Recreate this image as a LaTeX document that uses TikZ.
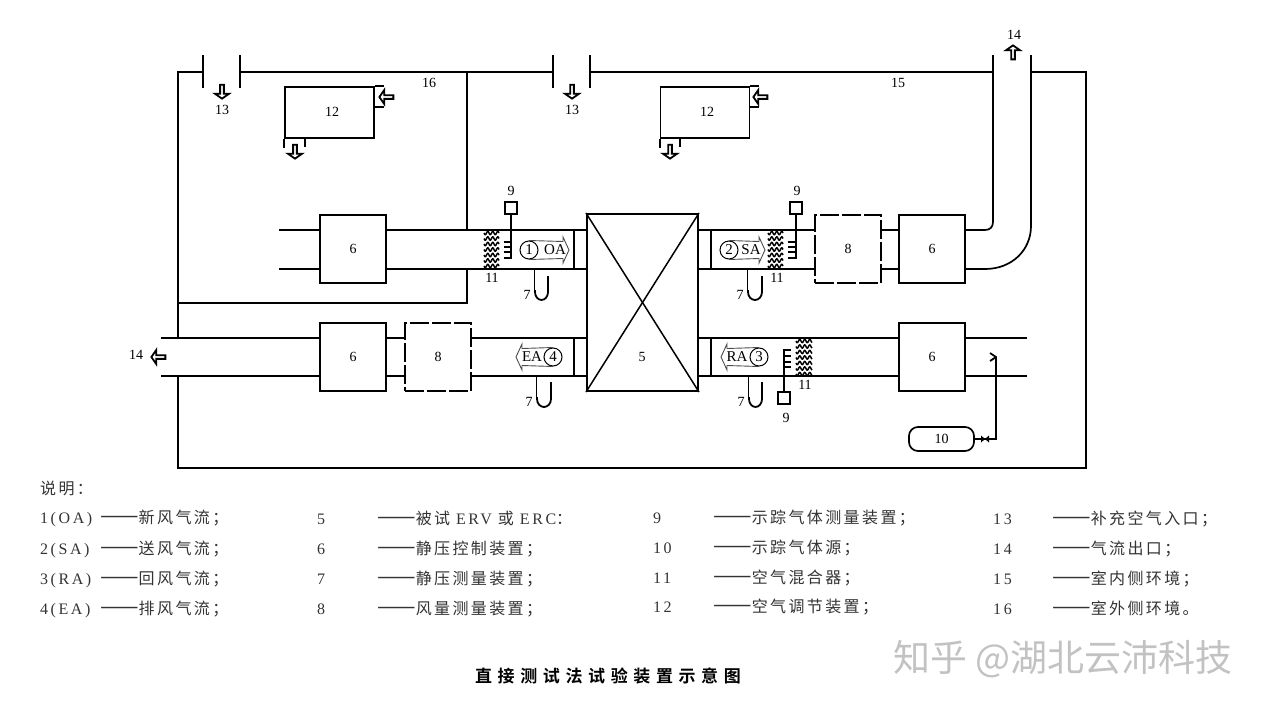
\documentclass[tikz,border=0pt]{standalone}
\usepackage{fontspec}
\setmainfont{Liberation Serif}
\newfontfamily\cjk[LetterSpace=15]{Noto Sans CJK SC}
\newfontfamily\legfont[LetterSpace=16]{Liberation Serif}
\newfontfamily\cjkplain{Noto Sans CJK SC}
\newfontfamily\cjktitle[LetterSpace=33]{Noto Sans CJK SC Bold}
\newfontfamily\szacfont{Liberation Sans}
\newcommand{\dsh}{{\fontsize{23}{19}\selectfont\cjkplain ——}}
\usetikzlibrary{shapes.arrows}

\begin{document}
\begin{tikzpicture}[x=1pt,y=-1pt]
	\tikzstyle{wall}=[draw,line width=1.8pt,black]
	\tikzstyle{duct}=[draw,line width=1.7pt,black]
	\tikzstyle{unit}=[draw,line width=2pt,rectangle,minimum width=66pt,minimum height=68pt,inner sep=0pt,font=\fontsize{14}{15}\selectfont]
	\tikzstyle{flowmeter}=[unit,dash pattern=on 19pt off 3pt]
	\tikzstyle{label}=[inner sep=0pt,font=\fontsize{14}{15}\selectfont]
	\tikzstyle{air}=[draw,line width=1.8pt,single arrow,minimum height=14pt,minimum width=14pt,single arrow head extend=2.5pt,single arrow tip angle=110,inner sep=0pt,fill=white]
	\tikzstyle{probe}=[draw,line width=1.6pt,rectangle,minimum size=12pt,inner sep=0pt]
	\tikzstyle{stem}=[draw,line width=1.6pt,black]
	\tikzstyle{mixer}=[draw,line width=1.5pt]
	\tikzstyle{flow}=[draw,line width=.9pt,black!70]
	\tikzstyle{stream}=[draw,line width=1pt,circle,minimum size=18pt,inner sep=0pt,font=\fontsize{15}{15}\selectfont]
	\tikzstyle{tube}=[draw,line width=1.8pt,black]
	\tikzstyle{legend}=[anchor=west,inner sep=0pt,text height=11pt,text depth=3pt,yshift=-1pt,black!80,font=\fontsize{16}{17}\selectfont\legfont]

	\useasboundingbox (0,0) rectangle (1262,710);

	% enclosure
	\coordinate (tl) at (178,72);
	\coordinate (tr) at (1086,72);
	\coordinate (br) at (1086,468);
	\coordinate (bl) at (178,468);
	\coordinate (inA) at (203,72);
	\coordinate (inB) at (240,72);
	\coordinate (inC) at (553,72);
	\coordinate (inD) at (590,72);
	\coordinate (outA) at (993,72);
	\coordinate (outB) at (1031,72);
	\path[wall] (178,338) -- (tl) -- (inA);
	\path[wall] (inB) -- (inC);
	\path[wall] (inD) -- (outA);
	\path[wall] (outB) -- (tr) -- (br) -- (bl) -- (178,376);
	\path[wall] (203,55) -- (203,88);
	\path[wall] (240,55) -- (240,88);
	\path[wall] (553,55) -- (553,88);
	\path[wall] (590,55) -- (590,88);
	\path[wall] (467,72) -- (467,230);
	\path[wall] (467,269) -- (467,303) -- (178,303);

	% units
	\node[unit,minimum width=111pt,minimum height=177pt] (v5) at (642.5,302.5) {};
	\node[label] (l5) at (642,357) {5};
	\node[unit] (a6) at (353,249) {6};
	\node[unit] (b6) at (932,249) {6};
	\node[unit] (c6) at (353,356.5) {6};
	\node[unit] (d6) at (932,356.5) {6};
	\node[flowmeter] (b8) at (848,249) {8};
	\node[flowmeter] (c8) at (438,356.5) {8};
	\draw[line width=1.5pt] (v5.north west) -- (v5.south east);
	\draw[line width=1.5pt] (v5.north east) -- (v5.south west);

	% ducts
	\path[duct] (279,230) -- (a6.west |- 0,230);
	\path[duct] (279,269) -- (a6.west |- 0,269);
	\path[duct] (a6.east |- 0,230) -- (v5.west |- 0,230);
	\path[duct] (a6.east |- 0,269) -- (v5.west |- 0,269);
	\path[duct] (v5.east |- 0,230) -- (b8.west |- 0,230);
	\path[duct] (v5.east |- 0,269) -- (b8.west |- 0,269);
	\path[duct] (b8.east |- 0,230) -- (b6.west |- 0,230);
	\path[duct] (b8.east |- 0,269) -- (b6.west |- 0,269);
	\path[duct] (b6.east |- 0,230) -- (985,230) .. controls (990,230) and (993,227) .. (993,222) -- (993,55);
	\path[duct] (b6.east |- 0,269) -- (985,269) .. controls (1012,269) and (1031,250) .. (1031,226) -- (1031,55);
	\path[duct] (161,338) -- (c6.west |- 0,338);
	\path[duct] (161,376) -- (c6.west |- 0,376);
	\path[duct] (c6.east |- 0,338) -- (c8.west |- 0,338);
	\path[duct] (c6.east |- 0,376) -- (c8.west |- 0,376);
	\path[duct] (c8.east |- 0,338) -- (v5.west |- 0,338);
	\path[duct] (c8.east |- 0,376) -- (v5.west |- 0,376);
	\path[duct] (v5.east |- 0,338) -- (d6.west |- 0,338);
	\path[duct] (v5.east |- 0,376) -- (d6.west |- 0,376);
	\path[duct] (d6.east |- 0,338) -- (1027,338);
	\path[duct] (d6.east |- 0,376) -- (1027,376);
	\path[duct] (574,230) -- (574,269);
	\path[duct] (711,230) -- (711,269);
	\path[duct] (574,338) -- (574,376);
	\path[duct] (711,338) -- (711,376);

	% conditioning units
	\node[draw,line width=1.7pt,minimum width=89pt,minimum height=51pt,inner sep=0pt] (a12) at (329.5,112.5) {};
	\node[label] (la12) at (332,112) {12};
	\path[duct] (a12.north east) -- ++(9,0);
	\path[duct] (a12.east |- 0,107) -- ++(9,0);
	\path[duct] (a12.south west) -- ++(0,9);
	\path[duct] (305,138) -- ++(0,9);
	\node[air,shape border rotate=180] (a12in) at (387,97) {};
	\node[air,shape border rotate=270] (a12out) at (295,151) {};
	\node[draw,line width=1.7pt,minimum width=89pt,minimum height=51pt,inner sep=0pt] (b12) at (705,112.5) {};
	\node[label] (lb12) at (707,112) {12};
	\path[duct] (b12.north east) -- ++(9,0);
	\path[duct] (b12.east |- 0,107) -- ++(9,0);
	\path[duct] (b12.south west) -- ++(0,9);
	\path[duct] (680,138) -- ++(0,9);
	\node[air,shape border rotate=180] (b12in) at (761,97) {};
	\node[air,shape border rotate=270] (b12out) at (670,151) {};

	% inlets and outlets
	\node[air,shape border rotate=270] (a13) at (222,91) {};
	\node[label] (la13) at (222,110) {13};
	\node[air,shape border rotate=270] (b13) at (572,91) {};
	\node[label] (lb13) at (572,110) {13};
	\node[air,shape border rotate=90] (a14) at (1013,53) {};
	\node[label] (la14) at (1014,35) {14};
	\node[air,shape border rotate=180] (b14) at (159,357) {};
	\node[label] (lb14) at (136,355) {14};
	\node[label] (l15) at (898,83) {15};
	\node[label] (l16) at (429,83) {16};

	% streams
	\node[stream] (s1) at (529,250) {1};
	\node[label,font=\fontsize{15}{15}\selectfont] (oa) at (555,250) {OA};
	\path[flow] (s1.north) -- (563,241.5) -- (563,237) -- (569,250) -- (563,263) -- (563,258.5) -- (s1.south);
	\node[stream] (s2) at (729,250) {2};
	\node[label,font=\fontsize{15}{15}\selectfont] (sa) at (751,250) {SA};
	\path[flow] (s2.north) -- (759,241.5) -- (759,237) -- (765,250) -- (759,263) -- (759,258.5) -- (s2.south);
	\node[stream] (s3) at (759,357) {3};
	\node[label,font=\fontsize{15}{15}\selectfont] (ra) at (737,357) {RA};
	\path[flow] (s3.north) -- (727,348.5) -- (727,344) -- (721,357) -- (727,370) -- (727,365.5) -- (s3.south);
	\node[stream] (s4) at (553,357) {4};
	\node[label,font=\fontsize{15}{15}\selectfont] (ea) at (532,357) {EA};
	\path[flow] (s4.north) -- (522,348.5) -- (522,344) -- (516,357) -- (522,370) -- (522,365.5) -- (s4.south);

	% mixers
	\foreach \r in {233,238.5,244,249.5,255,260.5,266}
		\path[mixer] plot[domain=0:15,samples=31,smooth] ({484+\x},{\r+1.6*sin(72*\x)});
	\foreach \r in {233,238.5,244,249.5,255,260.5,266}
		\path[mixer] plot[domain=0:15,samples=31,smooth] ({768+\x},{\r+1.6*sin(72*\x)});
	\foreach \r in {341,346.5,352,357.5,363,368.5,374}
		\path[mixer] plot[domain=0:16,samples=31,smooth] ({796+\x},{\r+1.6*sin(72*\x)});
	\node[label] (la11) at (492,278) {11};
	\node[label] (lb11) at (777,278) {11};
	\node[label] (lc11) at (805,385) {11};

	% tracer gas probes
	\node[probe] (a9) at (511,208) {};
	\node[label] (la9) at (511,191) {9};
	\path[stem] (a9.south) -- (511,258) -- (504,258);
	\path[stem] (511,242) -- (504,242);
	\path[stem] (511,247) -- (504,247);
	\path[stem] (511,252) -- (504,252);
	\node[probe] (b9) at (796,208) {};
	\node[label] (lb9) at (797,191) {9};
	\path[stem] (b9.south) -- (796,258) -- (788,258);
	\path[stem] (796,242) -- (788,242);
	\path[stem] (796,247) -- (788,247);
	\path[stem] (796,252) -- (788,252);
	\node[probe] (c9) at (784,398) {};
	\node[label] (lc9) at (786,418) {9};
	\path[stem] (c9.north) -- (784,350) -- (791,350);
	\path[stem] (784,356) -- (791,356);
	\path[stem] (784,362) -- (791,362);
	\path[stem] (784,367) -- (791,367);

	% static pressure tubes
	\path[tube] (535,269) -- (535,292) arc[start angle=180,end angle=0,radius=6.5pt,y radius=-8pt] -- (548,276);
	\path[tube,line width=.6pt,white] (535,270) -- (535,290);
	\node[label] (la7) at (527,295) {7};
	\path[tube] (748,269) -- (748,292) arc[start angle=180,end angle=0,radius=7pt,y radius=-8pt] -- (762,276);
	\path[tube,line width=.6pt,white] (748,270) -- (748,290);
	\node[label] (lb7) at (740,295) {7};
	\path[tube] (537,376) -- (537,399) arc[start angle=180,end angle=0,radius=7pt,y radius=-8pt] -- (551,382);
	\path[tube,line width=.6pt,white] (537,377) -- (537,397);
	\node[label] (lc7) at (529,402) {7};
	\path[tube] (749,376) -- (749,399) arc[start angle=180,end angle=0,radius=6.5pt,y radius=-8pt] -- (762,382);
	\path[tube,line width=.6pt,white] (749,377) -- (749,397);
	\node[label] (ld7) at (741,402) {7};

	% tracer gas source
	\node[draw,line width=1.7pt,rounded corners=9pt,minimum width=65pt,minimum height=24pt,inner sep=0pt,font=\fontsize{14}{15}\selectfont] (a10) at (941.5,439) {10};
	\coordinate (valve) at (985,439);
	\path[tube] (a10.east) -- (valve) -- (996,439) -- (996,357) -- (990,353);
	\path[tube] (996,357) -- (990,361);
	\fill (981,435.5) -- (989,442.5) -- (989,435.5) -- (981,442.5) -- cycle;

	% watermark
	\node[fill=blue!50!cyan!16,rounded corners=3pt,minimum size=32pt,inner sep=0pt,white,font=\fontsize{10}{11}\selectfont\szacfont\bfseries\itshape] (szac) at (809,166) {SZAC};

	% legend
	\node[legend] (h) at (40,489) {\cjk 说明：};
	\node[legend] (n1) at (40,518) {1(OA)};
	\node[legend] (t1) at (100,518) {\dsh\cjk 新风气流；};
	\node[legend] (n2) at (40,549) {2(SA)};
	\node[legend] (t2) at (100,549) {\dsh\cjk 送风气流；};
	\node[legend] (n3) at (40,579) {3(RA)};
	\node[legend] (t3) at (100,579) {\dsh\cjk 回风气流；};
	\node[legend] (n4) at (40,609) {4(EA)};
	\node[legend] (t4) at (100,609) {\dsh\cjk 排风气流；};
	\node[legend] (n5) at (317,519) {5};
	\node[legend] (t5) at (377,519) {\dsh\cjk 被试 {\legfont ERV} 或 {\legfont ERC}：};
	\node[legend] (n6) at (317,549) {6};
	\node[legend] (t6) at (377,549) {\dsh\cjk 静压控制装置；};
	\node[legend] (n7) at (317,579) {7};
	\node[legend] (t7) at (377,579) {\dsh\cjk 静压测量装置；};
	\node[legend] (n8) at (317,609) {8};
	\node[legend] (t8) at (377,609) {\dsh\cjk 风量测量装置；};
	\node[legend] (n9) at (653,518) {9};
	\node[legend] (t9) at (713,518) {\dsh\cjk 示踪气体测量装置；};
	\node[legend] (n10) at (653,548) {10};
	\node[legend] (t10) at (713,548) {\dsh\cjk 示踪气体源；};
	\node[legend] (n11) at (653,578) {11};
	\node[legend] (t11) at (713,578) {\dsh\cjk 空气混合器；};
	\node[legend] (n12) at (653,607) {12};
	\node[legend] (t12) at (713,607) {\dsh\cjk 空气调节装置；};
	\node[legend] (n13) at (993,519) {13};
	\node[legend] (t13) at (1052,519) {\dsh\cjk 补充空气入口；};
	\node[legend] (n14) at (993,549) {14};
	\node[legend] (t14) at (1052,549) {\dsh\cjk 气流出口；};
	\node[legend] (n15) at (993,579) {15};
	\node[legend] (t15) at (1052,579) {\dsh\cjk 室内侧环境；};
	\node[legend] (n16) at (993,609) {16};
	\node[legend] (t16) at (1052,609) {\dsh\cjk 室外侧环境。};

	\node[inner sep=0pt,font=\fontsize{17}{18}\selectfont\cjktitle] (title) at (608,676) {直接测试法试验装置示意图};
	\node[anchor=west,inner sep=0pt,black!24,font=\fontsize{37}{38}\selectfont\cjkplain] (mark) at (893,659) {知乎 @湖北云沛科技};
\end{tikzpicture}
\end{document}
